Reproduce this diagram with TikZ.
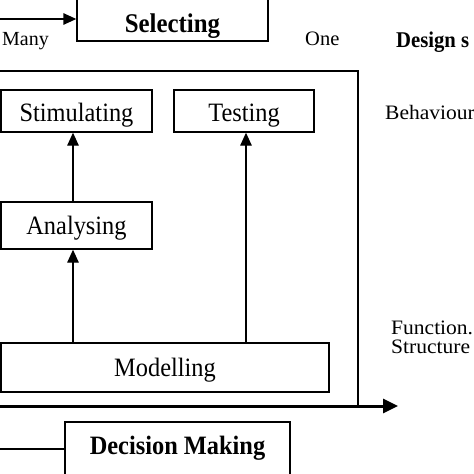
\documentclass[tikz,border=0pt]{standalone}
\usepackage{fontspec}
\setmainfont{Liberation Serif}
\newfontfamily\boxfont{Liberation Serif}[FakeStretch=0.92]
\newfontfamily\sidefont{Liberation Serif}[FakeStretch=1.05]
\usepackage{tikz}
\usetikzlibrary{arrows.meta}
\usetikzlibrary{positioning}

\begin{document}
\begin{tikzpicture}
  [x=1pt, y=-1pt,
  font=\boxfont\fontsize{26.5}{29}\selectfont,
  stage/.style={draw, line width=1.4pt, inner sep=0pt, text height=17pt, text depth=0pt},
  choice/.style={stage, font=\boxfont\fontsize{27}{29}\selectfont\bfseries},
  flow/.style={line width=1.4pt, -{Triangle[length=13pt,width=11.5pt]}},
  axis/.style={line width=3pt, -{Triangle[length=15pt,width=14pt]}},
  word/.style={inner sep=0pt, anchor=base west, font=\sidefont\fontsize{20.5}{18}\selectfont}]
\useasboundingbox (0,0) rectangle (474,474);
\clip (0,0) rectangle (474,474);
% boxes
\node [choice, minimum width=191pt, minimum height=42pt, text height=24pt] (sel) at (172.5,20) {Selecting};
\node [stage, minimum width=151pt, minimum height=42pt, text height=20pt] (stim) at (76.5,111) {Stimulating};
\node [stage, minimum width=140pt, minimum height=42pt, text height=20pt] (test) at (244,111) {Testing};
\node [stage, minimum width=151pt, minimum height=47pt] (anal) at (76.5,225.5) {Analysing};
\node [stage, minimum width=328pt, minimum height=49pt] (model) at (165,367.5) {Modelling};
\node [choice, minimum width=225pt, minimum height=68pt, font=\boxfont\fontsize{26.5}{29}\selectfont\bfseries, text height=0pt, text depth=4pt] (dec) at (177.5,456) {Decision Making};
% labels
\node [word, font=\rmfamily\fontsize{20}{22}\selectfont] (many) at (2,45.5) {Many};
\node [word, font=\rmfamily\fontsize{20.5}{22}\selectfont] (one) at (305,45.5) {One};
\node [word, font=\boxfont\fontsize{22.5}{24}\selectfont\bfseries] (space) at (396,47.5) {Design s};
\node [word] (beh) at (385,119) {Behaviour};
\node [word] (fun) at (391,334.5) {Function.};
\node [word] (str) at (391,353.5) {Structure};
% frame and axis
\coordinate (inL) at (-5,19);
\coordinate (decL) at (-5,449);
\coordinate (frTL) at (-5,71);
\coordinate (frTR) at (358,71);
\coordinate (axL) at (-5,406);
\coordinate (axR) at (398,406);
\draw [line width=1.4pt] (frTL) -- (frTR) -- (frTR |- axL);
\draw [axis] (axL) -- (axR);
% connectors
\draw [flow] (inL) -- (inL -| sel.west);
\draw [line width=1.4pt] (decL) -- (decL -| dec.west);
\draw [flow] ([xshift=-3.5pt]anal.north) -- ([xshift=-3.5pt]stim.south);
\draw [flow] ([xshift=-3.5pt]anal.south |- model.north) -- ([xshift=-3.5pt]anal.south);
\draw [flow] ([xshift=2pt]test.south |- model.north) -- ([xshift=2pt]test.south);
\end{tikzpicture}
\end{document}
